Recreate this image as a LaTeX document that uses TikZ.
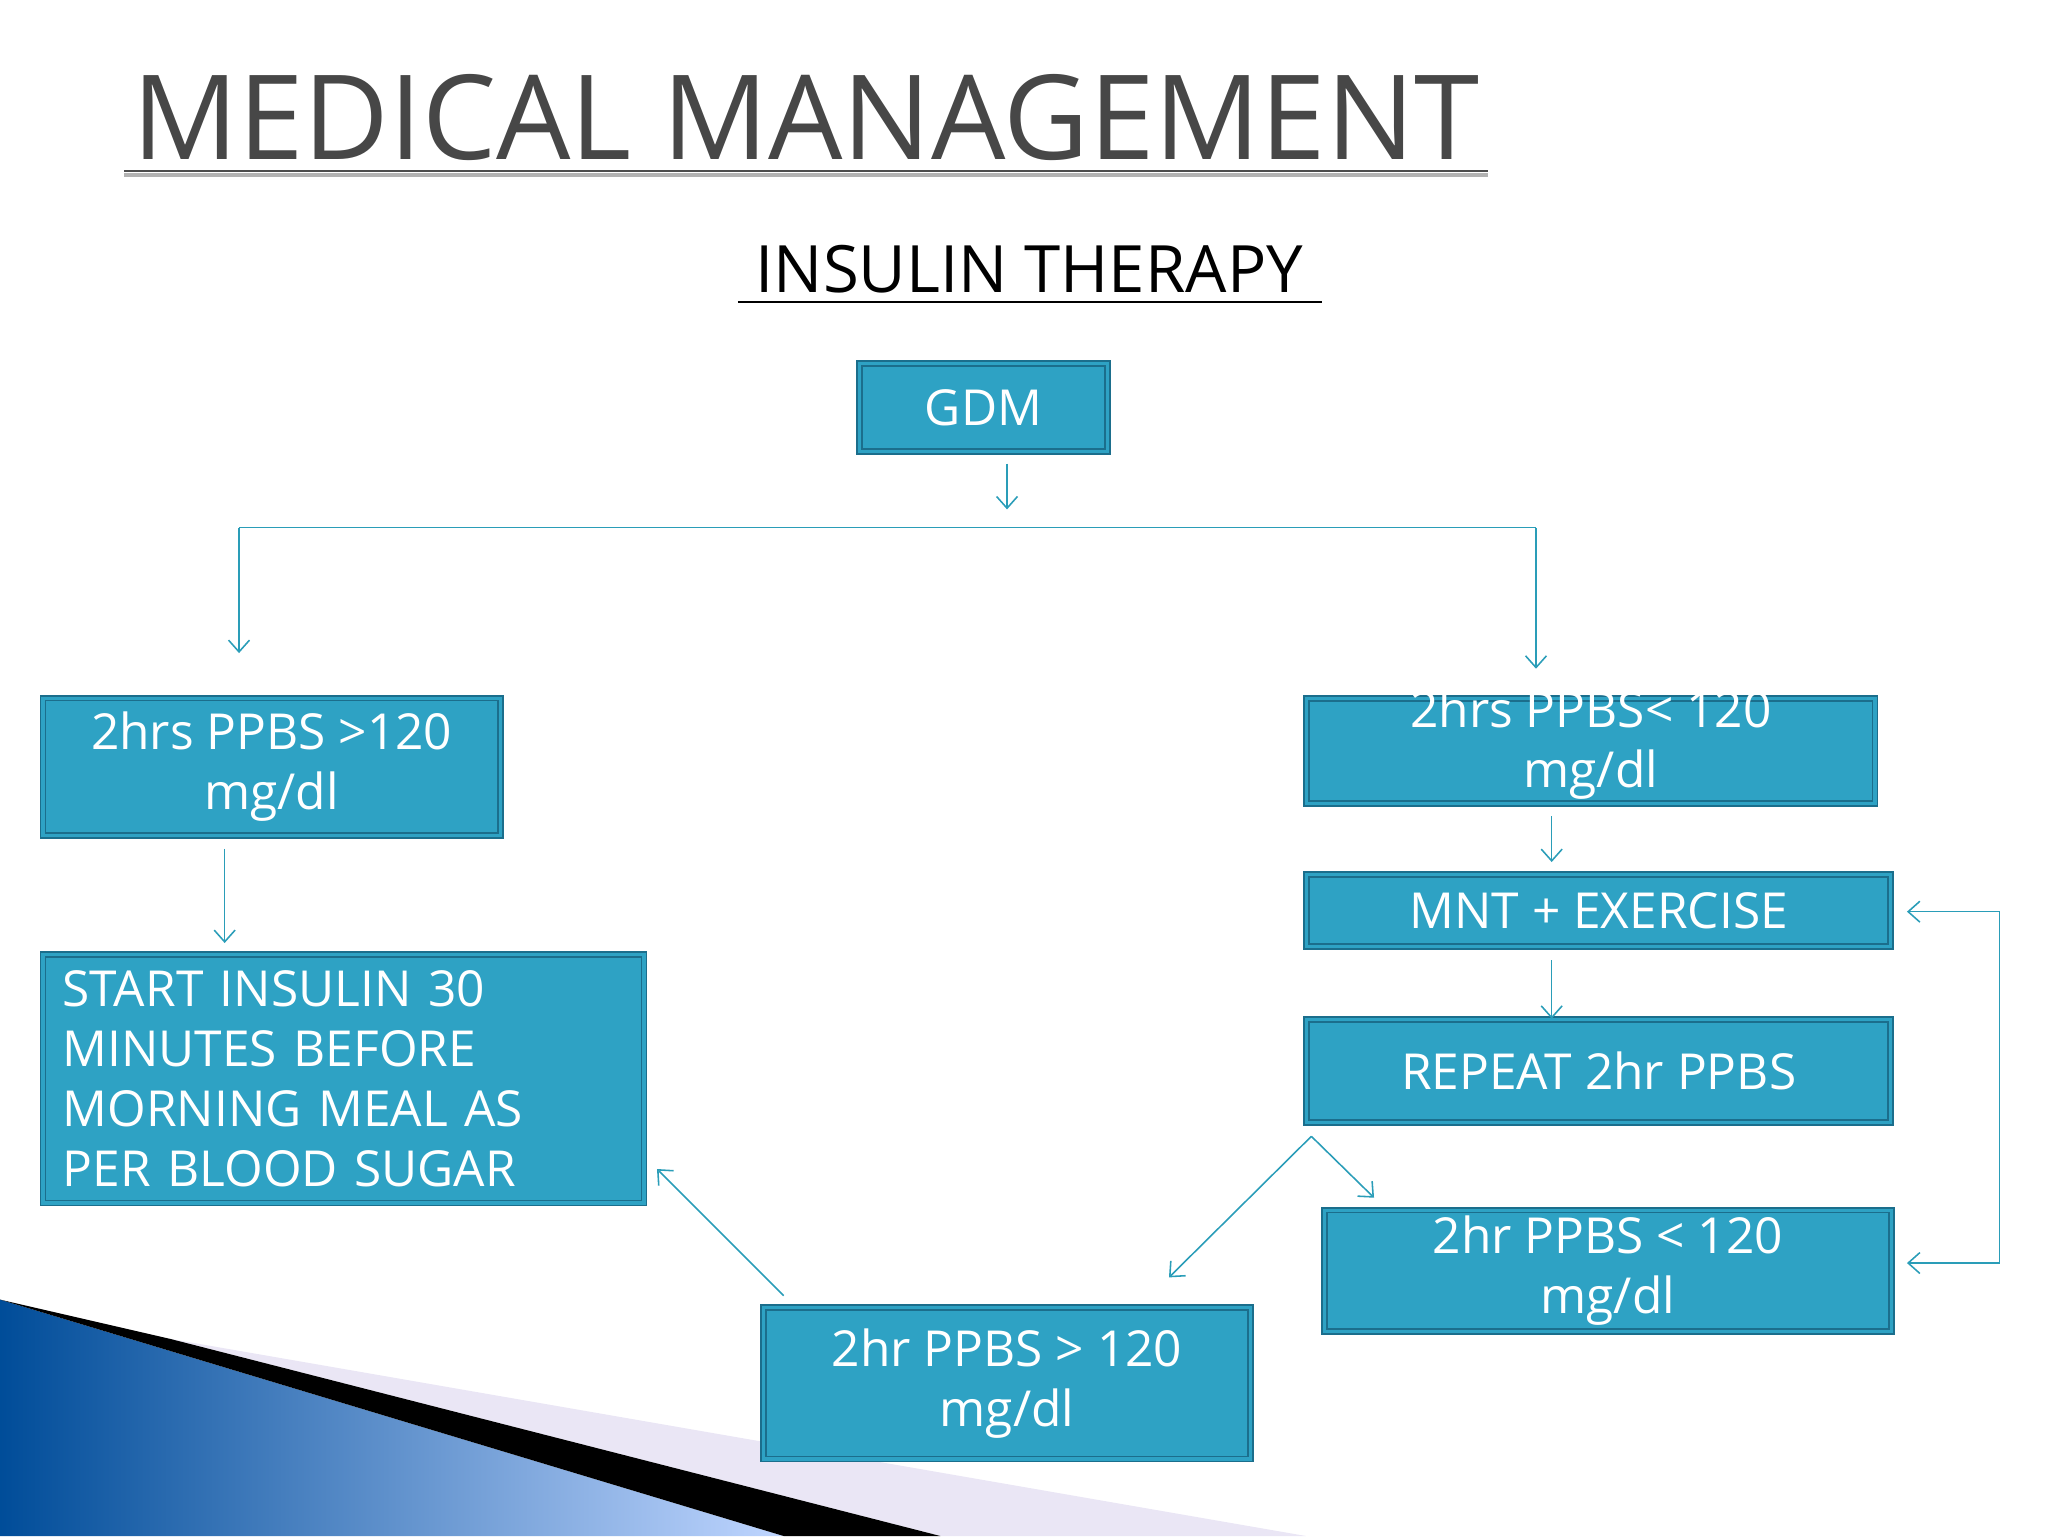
\documentclass[tikz,border=0pt]{standalone}
\usepackage{fontspec}
\setmainfont{Open Sans}
\usetikzlibrary{arrows.meta}
\definecolor{boxfill}{HTML}{2EA2C4}
\definecolor{boxedge}{HTML}{1B6E8C}
\definecolor{linec}{HTML}{2A9DB8}
\begin{document}
\begin{tikzpicture}[x=1pt,y=-1pt,
  bx/.style={draw=boxedge,line width=1.3pt,double=boxfill,double distance=2.5pt,fill=boxfill,text=white,font=\fontsize{38}{46}\selectfont,inner sep=0pt,align=center},
  arr/.style={draw=linec,line width=1.2pt,-{Straight Barb[length=9pt,width=16pt]}},
  ln/.style={draw=linec,line width=1.2pt}]
\useasboundingbox (0,0) rectangle (1568,1176);
% bottom-left decoration
\fill[cyan!6!blue!8] (130,1025) -- (1000,1176) -- (720,1176) -- cycle;
\shade[left color=cyan!50!blue!60!black,right color=cyan!35!blue!25] (0,995) -- (600,1176) -- (0,1176) -- cycle;
\fill[black] (0,995) -- (130,1025) -- (720,1176) -- (600,1176) -- cycle;
% title
\node[text=black!72,font=\fontsize{90}{100}\selectfont] (title) at (617,90) {MEDICAL MANAGEMENT};
\draw[gray!60,line width=3pt] (95,134) -- (1139,134);
\draw[black!70,line width=2pt] (95,131) -- (1139,131);
\node[font=\fontsize{50}{60}\selectfont] (sub) at (788,206) {INSULIN THERAPY};
\draw[line width=1.5pt] (565,231) -- (1012,231);
% boxes
\node[bx,minimum width=190,minimum height=67] (gdm) at (753,312) {GDM};
\node[bx,minimum width=350,minimum height=105] (l1) at (208,587) {2hrs PPBS >120\\mg/dl};
\node[bx,minimum width=460,minimum height=190,align=left,text width=430] (l2) at (263,826) {START INSULIN 30\\MINUTES BEFORE\\MORNING MEAL AS\\PER BLOOD SUGAR};
\node[bx,minimum width=435,minimum height=80] (r1) at (1218,575) {};
\node[text=white,font=\fontsize{38}{46}\selectfont,align=center] (r1t) at (1218,570) {2hrs PPBS< 120\\mg/dl};
\node[bx,minimum width=447,minimum height=55] (mnt) at (1224,697) {MNT + EXERCISE};
\node[bx,minimum width=447,minimum height=79] (rep) at (1224,820) {REPEAT 2hr PPBS};
\node[bx,minimum width=434,minimum height=93] (r4) at (1231,973) {2hr PPBS < 120\\mg/dl};
\node[bx,minimum width=373,minimum height=116] (bot) at (771,1059) {2hr PPBS > 120\\mg/dl};
% connectors
\coordinate (g1) at (771,355); \coordinate (g2) at (771,390);
\draw[arr] (g1) -- (g2);
\coordinate (lt) at (183,404); \coordinate (rt) at (1176,404);
\draw[ln] (lt) -- (rt);
\draw[arr] (lt) -- (183,500);
\draw[arr] (rt) -- (1176,512);
\coordinate (a1) at (172,650); \coordinate (a2) at (172,722);
\draw[arr] (a1) -- (a2);
\coordinate (b1) at (1188,625); \coordinate (b2) at (1188,660);
\draw[arr] (b1) -- (b2);
\coordinate (c1) at (1188,735); \coordinate (c2) at (1188,780);
\draw[arr] (c1) -- (c2);
\coordinate (sp) at (1004,870);
\draw[arr] (sp) -- (895,978);
\draw[arr] (sp) -- (1052,917);
\coordinate (d1) at (600,992); \coordinate (d2) at (503,895);
\draw[arr] (d1) -- (d2);
\coordinate (fb1) at (1531,967); \coordinate (fb2) at (1531,698);
\draw[ln] (fb1) -- (fb2);
\draw[arr] (fb1) -- (1460,967);
\draw[arr] (fb2) -- (1460,698);
\end{tikzpicture}
\end{document}
